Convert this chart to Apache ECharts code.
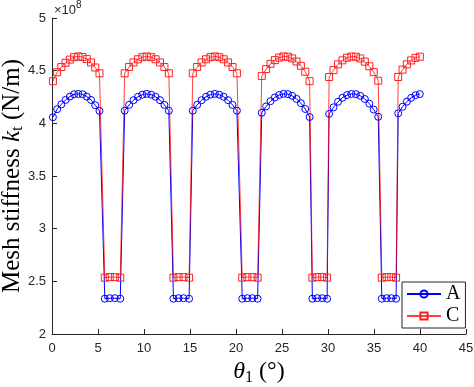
<!DOCTYPE html>
<html><head><meta charset="utf-8">
<script src="https://cdn.jsdelivr.net/npm/echarts@6/dist/echarts.min.js"></script>
<style>html,body{margin:0;padding:0;background:#fff}#c{width:474px;height:387px}</style>
</head><body><div id="c"></div>
<script>
// rotation angle theta_1 (deg), shared by both series
const theta = [
  0.1, 0.56, 1.02, 1.48, 1.94, 2.4, 2.86, 3.32, 3.78, 4.24, 4.7, 5.16,
  5.74, 6.28, 6.83, 7.42,
  7.9, 8.38, 8.86, 9.34, 9.82, 10.3, 10.78, 11.26, 11.74, 12.22, 12.7,
  13.2, 13.75, 14.3, 14.9,
  15.3, 15.78, 16.26, 16.74, 17.22, 17.7, 18.18, 18.66, 19.14, 19.62, 20.1,
  20.68, 21.23, 21.78, 22.35,
  22.8, 23.27, 23.75, 24.22, 24.69, 25.16, 25.64, 26.11, 26.58, 27.05, 27.53, 28.0,
  28.3, 28.83, 29.37, 29.9,
  30.12, 30.6, 31.09, 31.57, 32.06, 32.54, 33.03, 33.51, 34.0, 34.49, 34.97, 35.46,
  35.85, 36.37, 36.88, 37.4,
  37.63, 38.1, 38.57, 39.04, 39.51, 39.98
];
// mesh stiffness, case A (x 1e8 N/m)
const stiffA = [
  4.058, 4.134, 4.181, 4.222, 4.254, 4.276, 4.279, 4.276, 4.254, 4.222, 4.172, 4.118,
  2.335, 2.34, 2.34, 2.335,
  4.12, 4.175, 4.22, 4.252, 4.272, 4.28, 4.272, 4.252, 4.22, 4.175, 4.12,
  2.335, 2.34, 2.34, 2.335,
  4.12, 4.175, 4.22, 4.252, 4.272, 4.28, 4.272, 4.252, 4.22, 4.175, 4.12,
  2.335, 2.34, 2.34, 2.335,
  4.10, 4.16, 4.21, 4.246, 4.269, 4.28, 4.277, 4.261, 4.232, 4.191, 4.136, 4.06,
  2.335, 2.34, 2.34, 2.335,
  4.09, 4.152, 4.205, 4.243, 4.268, 4.279, 4.277, 4.261, 4.231, 4.187, 4.131, 4.062,
  2.335, 2.34, 2.34, 2.335,
  4.095, 4.157, 4.206, 4.242, 4.267, 4.278
];
// mesh stiffness, case C (x 1e8 N/m)
const stiffC = [
  4.40, 4.485, 4.535, 4.575, 4.605, 4.628, 4.635, 4.63, 4.61, 4.578, 4.53, 4.475,
  2.535, 2.54, 2.54, 2.535,
  4.475, 4.535, 4.578, 4.608, 4.628, 4.635, 4.628, 4.608, 4.578, 4.535, 4.475,
  2.535, 2.54, 2.54, 2.535,
  4.475, 4.535, 4.578, 4.608, 4.628, 4.635, 4.628, 4.608, 4.578, 4.535, 4.475,
  2.535, 2.54, 2.54, 2.535,
  4.45, 4.515, 4.565, 4.60, 4.624, 4.635, 4.632, 4.616, 4.587, 4.546, 4.49, 4.40,
  2.535, 2.54, 2.54, 2.535,
  4.44, 4.505, 4.56, 4.598, 4.623, 4.634, 4.632, 4.616, 4.586, 4.542, 4.486, 4.405,
  2.535, 2.54, 2.54, 2.535,
  4.44, 4.51, 4.56, 4.597, 4.622, 4.633
];
const seriesNames = ['A', 'C'];

const axisColor = '#262626';
const serif = 'Liberation Serif, Times New Roman, serif';
const sans = 'Liberation Sans, Arial, sans-serif';

const chart = echarts.init(document.getElementById('c'), null, {renderer: 'canvas'});
chart.setOption({
  animation: false,
  backgroundColor: '#fff',
  grid: {left: 52, right: 8, top: 18, bottom: 53, containLabel: false, outerBoundsMode: 'none'},
  xAxis: {
    type: 'value', min: 0, max: 45, interval: 5,
    axisLine: {show: true, lineStyle: {color: axisColor, width: 1}},
    axisTick: {show: true, inside: true, length: 5, lineStyle: {color: axisColor}},
    axisLabel: {color: axisColor, fontFamily: sans, fontSize: 13, margin: 8},
    splitLine: {show: false},
    name: '{t|θ}{s|1}{m| (°)}',
    nameLocation: 'middle', nameGap: 22,
    nameTextStyle: {
      rich: {
        t: {fontFamily: serif, fontStyle: 'italic', fontSize: 24, lineHeight: 28, color: '#000'},
        s: {fontFamily: serif, fontSize: 16, lineHeight: 16, verticalAlign: 'bottom', color: '#000'},
        m: {fontFamily: serif, fontSize: 24, lineHeight: 28, color: '#000'}
      }
    }
  },
  yAxis: {
    type: 'value', min: 2, max: 5, interval: 0.5,
    axisLine: {show: true, lineStyle: {color: axisColor, width: 1}},
    axisTick: {show: true, inside: true, length: 5, lineStyle: {color: axisColor}},
    axisLabel: {color: axisColor, fontFamily: sans, fontSize: 13, margin: 6, showMaxLabel: true},
    splitLine: {show: false},
    name: '{m|Mesh stiffness }{k|k}{s|t}{m| (N/m)}',
    nameLocation: 'middle', nameGap: 26, nameRotate: 90, nameMoveOverlap: false,
    nameTextStyle: {
      rich: {
        m: {fontFamily: serif, fontSize: 25, lineHeight: 28, color: '#000'},
        k: {fontFamily: serif, fontStyle: 'italic', fontSize: 25, lineHeight: 28, color: '#000'},
        s: {fontFamily: serif, fontSize: 17, lineHeight: 16, verticalAlign: 'bottom', color: '#000'}
      }
    }
  },
  graphic: [
    {type: 'text', x: 54, y: 4, z: 10,
     style: {text: '×10', font: '13px "Liberation Sans", Arial, sans-serif', fill: axisColor, textAlign: 'left', textVerticalAlign: 'top'}},
    {type: 'text', x: 76, y: 0, z: 10,
     style: {text: '8', font: '10px "Liberation Sans", Arial, sans-serif', fill: axisColor, textAlign: 'left', textVerticalAlign: 'top'}}
  ],
  legend: {
    orient: 'vertical', left: 402, top: 282,
    backgroundColor: '#fff', borderColor: axisColor, borderWidth: 1, borderRadius: 0,
    padding: [2, 5, 2, 4], itemGap: 2, itemWidth: 34, itemHeight: 9,
    textStyle: {fontFamily: serif, fontSize: 20, lineHeight: 19, color: '#000'},
    data: seriesNames
  },
  series: [
    {
      type: 'line', name: seriesNames[0],
      data: theta.map((t, i) => [t, stiffA[i]]),
      symbol: 'circle', symbolSize: 7, showSymbol: true, showAllSymbol: true,
      lineStyle: {color: '#0000ff', width: 1},
      itemStyle: {color: 'rgba(255,255,255,0)', borderColor: '#0000ff', borderWidth: 1}
    },
    {
      type: 'line', name: seriesNames[1],
      data: theta.map((t, i) => [t, stiffC[i]]),
      symbol: 'rect', symbolSize: 7, showSymbol: true, showAllSymbol: true,
      lineStyle: {color: '#ff0000', width: 1, opacity: 0.75},
      itemStyle: {color: 'rgba(255,255,255,0)', borderColor: '#ff2020', borderWidth: 1}
    }
  ]
});
</script>
</body></html>
